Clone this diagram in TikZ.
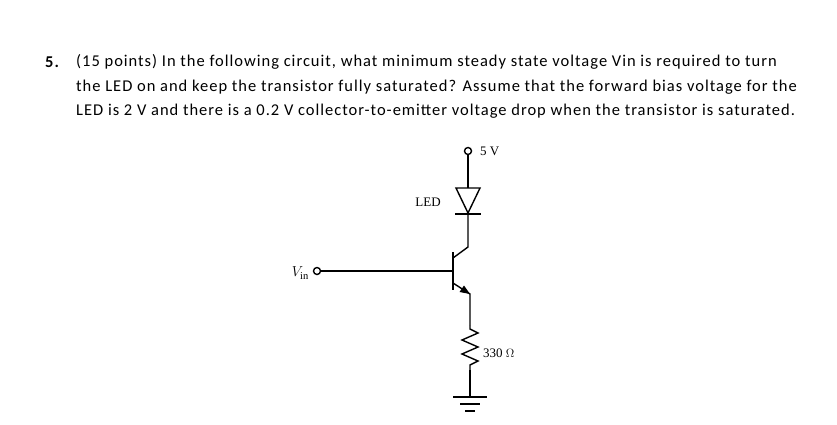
\documentclass[tikz,border=0pt]{standalone}
\usepackage{fontspec}
\setmainfont{Liberation Serif}
\newfontfamily\qfont[LetterSpace=6]{Carlito}
\begin{document}
\begin{tikzpicture}[x=1pt,y=-1pt,
  wire/.style={line width=1.4pt},
  term/.style={circle,draw,line width=1.4pt,fill=white,minimum size=7pt,inner sep=0pt},
  qtext/.style={anchor=west,inner sep=0pt,font=\qfont\fontsize{16.5}{19}\selectfont},
  lab/.style={inner sep=0pt,font=\fontsize{13}{15}\selectfont}]
\useasboundingbox (0,0) rectangle (837,424);
\node[qtext] (n5) at (45,62) {\textbf{5.}};
\node[qtext] (l1) at (76,62) {(15 points) In the following circuit, what minimum steady state voltage Vin is required to turn};
\node[qtext] (l2) at (76,87) {the LED on and keep the transistor fully saturated? Assume that the forward bias voltage for the};
\node[qtext] (l3) at (76,111) {LED is 2 V and there is a 0.2 V collector-to-emitter voltage drop when the transistor is saturated.};
% supply
\node[term] (vs) at (468,151) {};
\node[lab,anchor=west] (vsl) at (480,151) {5 V};
\coordinate (dtop) at (468,188);
\coordinate (dbot) at (468,213);
\coordinate (c) at (468,247);
\coordinate (ci) at (453,258);
\coordinate (ei) at (453,283);
\coordinate (e) at (470,294);
\coordinate (rt) at (470,325);
\coordinate (rb) at (470,370);
\coordinate (g) at (470,397);
\draw[wire] (vs) -- (dtop);
\draw[wire,line join=miter] (456,188) -- (480,188) -- (dbot) -- cycle;
\draw[wire] (455,214) -- (481,214);
\draw[wire] (dbot) -- (c) -- (ci);
\draw[wire] (453,252) -- (453,290);
\node[lab] (led) at (428,202) {LED};
% base
\node[term] (vin) at (317,271) {};
\node[lab,anchor=east,font=\fontsize{15}{17}\selectfont] (vinl) at (309,273) {$V_{\mathrm{in}}$};
\draw[wire] (vin) -- (453,271);
% emitter
\draw[wire] (ei) -- (e) -- (rt);
\fill (470,294) -- (459.5,292) -- (464,285.5) -- cycle;
\draw[wire,line join=miter] (rt) -- ++(0,4) -- ++(8,4) -- ++(-16,7) -- ++(16,7) -- ++(-16,7) -- ++(16,7) -- ++(-8,4) -- (rb);
\node[lab,anchor=west] (rl) at (483,353) {330 $\Omega$};
\draw[wire] (rb) -- (g);
\draw[wire] (453,397) -- (487,397);
\draw[wire] (460,404) -- (480,404);
\draw[wire] (465,411) -- (475,411);
\end{tikzpicture}
\end{document}
